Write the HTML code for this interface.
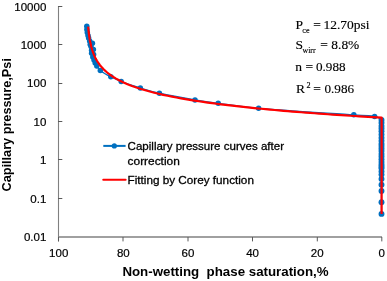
<!DOCTYPE html>
<html><head><meta charset="utf-8"><style>
html,body{margin:0;padding:0;background:#fff;width:387px;height:281px;overflow:hidden}
svg{display:block}
</style></head><body>
<svg width="387" height="281" viewBox="0 0 387 281">
<rect width="387" height="281" fill="#fff"/>
<g fill="none">
<path d="M58.5,6 V241.4" stroke="#808080" stroke-width="1.1"/>
<path d="M58,237 H382" stroke="#808080" stroke-width="1.3"/>
<g stroke="#5a5a5a" stroke-width="1"><path d="M58,6.5 H62.3"/><path d="M58,44.5 H62.3"/><path d="M58,83.5 H62.3"/><path d="M58,121.5 H62.3"/><path d="M58,159.5 H62.3"/><path d="M58,198.5 H62.3"/><path d="M58.50,237 V241.4"/><path d="M123.00,237 V241.4"/><path d="M188.00,237 V241.4"/><path d="M252.50,237 V241.4"/><path d="M317.30,237 V241.4"/><path d="M381.80,237 V241.4"/></g>
</g>
<g font-family="Liberation Sans, Arial, sans-serif" font-size="11.5" fill="#000" stroke="#000" stroke-width="0.2" text-anchor="end">
<text x="46.3" y="10.5">10000</text><text x="46.3" y="48.9">1000</text><text x="46.3" y="87.3">100</text><text x="46.3" y="125.7">10</text><text x="46.3" y="164.1">1</text><text x="46.3" y="202.5">0.1</text><text x="46.3" y="240.9">0.01</text>
</g>
<g font-family="Liberation Sans, Arial, sans-serif" font-size="11.5" fill="#000" stroke="#000" stroke-width="0.2" text-anchor="middle">
<text x="58.7" y="256.8">100</text><text x="123.3" y="256.8">80</text><text x="187.9" y="256.8">60</text><text x="252.6" y="256.8">40</text><text x="317.2" y="256.8">20</text><text x="381.8" y="256.8">0</text>
</g>
<text x="122.4" y="276.3" font-family="Liberation Sans, Arial, sans-serif" font-weight="bold" font-size="13" textLength="206.2" lengthAdjust="spacingAndGlyphs" xml:space="preserve">Non-wetting  phase saturation,%</text>
<text transform="translate(11.3,191.4) rotate(-90)" x="0" y="0" font-family="Liberation Sans, Arial, sans-serif" font-weight="bold" font-size="12.5" textLength="133.2" lengthAdjust="spacingAndGlyphs">Capillary pressure,Psi</text>
<path d="M86.80,26.30 C86.82,26.83 86.82,28.47 86.90,29.50 C86.98,30.53 87.12,31.50 87.30,32.50 C87.48,33.50 87.78,34.58 88.00,35.50 C88.22,36.42 88.33,37.08 88.60,38.00 C88.87,38.92 88.97,40.13 89.60,41.00 C90.23,41.87 92.30,42.62 92.40,43.20 C92.50,43.78 90.43,43.95 90.20,44.50 C89.97,45.05 90.47,45.67 91.00,46.50 C91.53,47.33 93.30,48.88 93.40,49.50 C93.50,50.12 91.90,49.57 91.60,50.20 C91.30,50.83 91.27,52.58 91.60,53.30 C91.93,54.02 93.40,53.88 93.60,54.50 C93.80,55.12 92.73,56.08 92.80,57.00 C92.87,57.92 93.60,59.00 94.00,60.00 C94.40,61.00 94.73,62.00 95.20,63.00 C95.67,64.00 95.95,64.77 96.80,66.00 C97.65,67.23 97.97,68.60 100.30,70.40 C102.63,72.20 107.32,74.95 110.80,76.80 C114.28,78.65 116.28,79.65 121.20,81.50 C126.12,83.35 133.93,85.95 140.30,87.90 C146.67,89.85 150.28,91.20 159.40,93.20 C168.52,95.20 185.20,98.22 195.00,99.90 C204.80,101.58 207.60,101.90 218.20,103.30 C228.80,104.70 236.00,106.38 258.60,108.30 C281.20,110.22 334.47,113.45 353.80,114.80 C373.13,116.15 369.98,115.53 374.60,116.40 C379.22,117.27 380.35,118.95 381.50,120.00 C382.65,121.05 381.50,121.72 381.50,122.70 C381.50,123.68 381.50,124.93 381.50,125.90 C381.50,126.87 381.50,127.60 381.50,128.50 C381.50,129.40 381.50,130.30 381.50,131.30 C381.50,132.30 381.50,133.43 381.50,134.50 C381.50,135.57 381.50,136.67 381.50,137.70 C381.50,138.73 381.50,139.70 381.50,140.70 C381.50,141.70 381.50,142.82 381.50,143.70 C381.50,144.58 381.50,145.20 381.50,146.00 C381.50,146.80 381.50,147.67 381.50,148.50 C381.50,149.33 381.50,150.10 381.50,151.00 C381.50,151.90 381.50,152.98 381.50,153.90 C381.50,154.82 381.50,155.62 381.50,156.50 C381.50,157.38 381.50,158.28 381.50,159.20 C381.50,160.12 381.50,161.12 381.50,162.00 C381.50,162.88 381.50,163.75 381.50,164.50 C381.50,165.25 381.50,165.88 381.50,166.50 C381.50,167.12 381.50,167.37 381.50,168.20 C381.50,169.03 381.50,170.43 381.50,171.50 C381.50,172.57 381.50,173.37 381.50,174.60 C381.50,175.83 381.50,177.22 381.50,178.90 C381.50,180.58 381.50,182.68 381.50,184.70 C381.50,186.72 381.50,188.08 381.50,191.00 C381.50,193.92 381.50,198.38 381.50,202.20 C381.50,206.02 381.50,211.95 381.50,213.90" fill="none" stroke="#0070c0" stroke-width="1.3" stroke-linejoin="round"/>
<g fill="#0070c0"><circle cx="86.80" cy="26.30" r="2.75"/><circle cx="86.90" cy="29.50" r="2.75"/><circle cx="87.30" cy="32.50" r="2.75"/><circle cx="88.00" cy="35.50" r="2.75"/><circle cx="88.60" cy="38.00" r="2.75"/><circle cx="89.60" cy="41.00" r="2.75"/><circle cx="92.40" cy="43.20" r="2.75"/><circle cx="90.20" cy="44.50" r="2.75"/><circle cx="91.00" cy="46.50" r="2.75"/><circle cx="93.40" cy="49.50" r="2.75"/><circle cx="91.60" cy="50.20" r="2.75"/><circle cx="91.60" cy="53.30" r="2.75"/><circle cx="93.60" cy="54.50" r="2.75"/><circle cx="92.80" cy="57.00" r="2.75"/><circle cx="94.00" cy="60.00" r="2.75"/><circle cx="95.20" cy="63.00" r="2.75"/><circle cx="96.80" cy="66.00" r="2.75"/><circle cx="100.30" cy="70.40" r="2.75"/><circle cx="110.80" cy="76.80" r="2.75"/><circle cx="121.20" cy="81.50" r="2.75"/><circle cx="140.30" cy="87.90" r="2.75"/><circle cx="159.40" cy="93.20" r="2.75"/><circle cx="195.00" cy="99.90" r="2.75"/><circle cx="218.20" cy="103.30" r="2.75"/><circle cx="258.60" cy="108.30" r="2.75"/><circle cx="353.80" cy="114.80" r="2.75"/><circle cx="374.60" cy="116.40" r="2.75"/><circle cx="381.50" cy="120.00" r="2.95"/><circle cx="381.50" cy="122.70" r="2.95"/><circle cx="381.50" cy="125.90" r="2.95"/><circle cx="381.50" cy="128.50" r="2.95"/><circle cx="381.50" cy="131.30" r="2.95"/><circle cx="381.50" cy="134.50" r="2.95"/><circle cx="381.50" cy="137.70" r="2.95"/><circle cx="381.50" cy="140.70" r="2.95"/><circle cx="381.50" cy="143.70" r="2.95"/><circle cx="381.50" cy="146.00" r="2.95"/><circle cx="381.50" cy="148.50" r="2.95"/><circle cx="381.50" cy="151.00" r="2.95"/><circle cx="381.50" cy="153.90" r="2.95"/><circle cx="381.50" cy="156.50" r="2.95"/><circle cx="381.50" cy="159.20" r="2.95"/><circle cx="381.50" cy="162.00" r="2.95"/><circle cx="381.50" cy="164.50" r="2.95"/><circle cx="381.50" cy="166.50" r="2.95"/><circle cx="381.50" cy="168.20" r="2.95"/><circle cx="381.50" cy="171.50" r="2.95"/><circle cx="381.50" cy="174.60" r="2.95"/><circle cx="381.50" cy="178.90" r="2.95"/><circle cx="381.50" cy="184.70" r="2.95"/><circle cx="381.50" cy="191.00" r="2.95"/><circle cx="381.50" cy="202.20" r="2.95"/><circle cx="381.50" cy="213.90" r="2.95"/></g>
<path d="M88.17,26.60 L88.79,33.00 L89.80,40.00 L91.33,47.00 L91.71,48.37 L92.12,49.75 L92.57,51.13 L93.06,52.50 L93.58,53.87 L94.16,55.25 L94.78,56.62 L95.45,58.00 L96.18,59.38 L96.98,60.75 L97.84,62.12 L98.77,63.50 L99.79,64.88 L100.89,66.25 L102.08,67.62 L103.37,69.00 L104.78,70.38 L106.30,71.75 L107.95,73.12 L109.74,74.50 L111.69,75.88 L113.80,77.25 L116.09,78.62 L118.57,80.00 L123.03,82.22 L127.48,84.18 L131.94,85.93 L136.39,87.52 L140.85,88.98 L145.31,90.32 L149.76,91.56 L154.22,92.71 L158.68,93.79 L163.13,94.81 L167.59,95.77 L172.05,96.67 L176.50,97.53 L180.96,98.35 L185.42,99.13 L189.87,99.88 L194.33,100.59 L198.79,101.28 L203.24,101.94 L207.70,102.57 L212.15,103.18 L216.61,103.77 L221.07,104.34 L225.52,104.89 L229.98,105.43 L234.44,105.94 L238.89,106.45 L243.35,106.93 L247.81,107.41 L252.26,107.87 L256.72,108.32 L261.18,108.76 L265.63,109.18 L270.09,109.60 L274.55,110.00 L279.00,110.40 L283.46,110.79 L287.91,111.16 L292.37,111.53 L296.83,111.90 L301.28,112.25 L305.74,112.60 L310.20,112.94 L314.65,113.27 L319.11,113.60 L323.57,113.92 L328.02,114.23 L332.48,114.54 L336.94,114.85 L341.39,115.14 L345.85,115.44 L350.30,115.73 L354.76,116.01 L359.22,116.29 L363.67,116.56 L368.13,116.83 L372.59,117.10 L377.04,117.36 L381.50,117.61 L381.60,117.61 L381.60,214.00" fill="none" stroke="#ff0000" stroke-width="2.2" stroke-linejoin="round"/>
<path d="M103.3,145.9 H125.6" stroke="#0070c0" stroke-width="2"/>
<circle cx="114.3" cy="145.9" r="2.6" fill="#0070c0"/>
<path d="M103.3,179.8 H125.6" stroke="#ff0000" stroke-width="2.1" stroke-linecap="round"/>
<g font-family="Liberation Sans, Arial, sans-serif" font-size="11.6" fill="#000" stroke="#000" stroke-width="0.3">
<text x="127.6" y="150" textLength="156.4" lengthAdjust="spacingAndGlyphs">Capillary pressure curves after</text>
<text x="127.6" y="165.4" textLength="52.2" lengthAdjust="spacingAndGlyphs">correction</text>
<text x="127.5" y="183.5" textLength="126.4" lengthAdjust="spacingAndGlyphs">Fitting by Corey function</text>
</g>
<g font-family="Liberation Serif, Times New Roman, serif" font-size="13.5" fill="#000" stroke="#000" stroke-width="0.15">
<text x="295.6" y="28.6">P</text>
<text x="302.3" y="32.6" font-size="8.2" stroke-width="0.15" textLength="7.2" lengthAdjust="spacingAndGlyphs">ce</text>
<text x="313.2" y="28.6">=</text>
<text x="323.4" y="28.6" textLength="46.2" lengthAdjust="spacingAndGlyphs">12.70psi</text>
<text x="295.6" y="48.8">S</text>
<text x="302.5" y="53" font-size="8.2" stroke-width="0.15" textLength="13" lengthAdjust="spacingAndGlyphs">wirr</text>
<text x="320.3" y="48.8">=</text>
<text x="331.3" y="48.8" textLength="28" lengthAdjust="spacingAndGlyphs">8.8%</text>
<text x="295.3" y="70.6">n</text>
<text x="305.6" y="70.6">=</text>
<text x="316" y="70.6" textLength="29.6" lengthAdjust="spacingAndGlyphs">0.988</text>
<text x="295.9" y="93.3">R</text>
<text x="306.4" y="88" font-size="8.2" stroke-width="0.15">2</text>
<text x="313.2" y="93.3">=</text>
<text x="324.5" y="93.3" textLength="29.6" lengthAdjust="spacingAndGlyphs">0.986</text>
</g>
</svg>
</body></html>
